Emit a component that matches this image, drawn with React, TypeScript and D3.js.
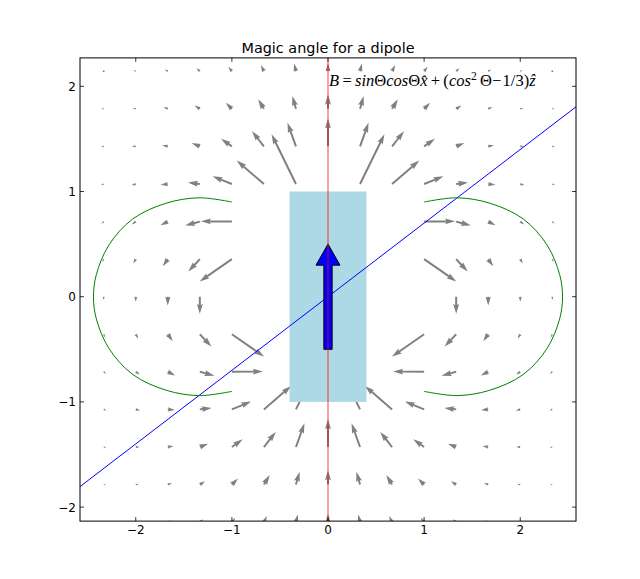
import React from 'react';
import * as d3 from 'd3';

const W = 640;
const H = 579;
const AX = { left: 80, right: 576, top: 57.9, bottom: 521.1 };
const xDomain = [-2.58, 2.58];
const yDomain = [-2.133, 2.27];
const xTicks = [-2, -1, 0, 1, 2];
const yTicks = [-2, -1, 0, 1, 2];
const titleText = 'Magic angle for a dipole';

// quiver grid (one quadrant, mirrored by symmetry of the dipole field)
const gridX = [0, 1 / 3, 2 / 3, 1, 4 / 3, 5 / 3, 2, 7 / 3];
const gridZ = [0, 0.357, 0.714, 1.071, 1.429, 1.786, 2.143];
// x component per row (gridZ) and column (gridX); null = no arrow
const fieldBx: (number | null)[][] = [
  [null, null, null, null, 0, 0, 0, 0],
  [null, null, null, 0.794, 0.285, 0.124, 0.062, 0.034],
  [null, null, null, 0.765, 0.361, 0.182, 0.099, 0.058],
  [null, 0.602, 0.670, 0.475, 0.293, 0.175, 0.107, 0.067],
  [0, 0.210, 0.293, 0.266, 0.201, 0.140, 0.096, 0.065],
  [0, 0.090, 0.142, 0.149, 0.130, 0.103, 0.077, 0.057],
  [0, 0.045, 0.075, 0.087, 0.084, 0.073, 0.059, 0.047],
];
const fieldBz: (number | null)[][] = [
  [null, null, null, null, -0.422, -0.216, -0.125, -0.079],
  [null, null, null, -0.552, -0.304, -0.175, -0.108, -0.071],
  [null, null, null, 0.007, -0.096, -0.090, -0.069, -0.051],
  [null, 1.228, 0.579, 0.192, 0.035, -0.016, -0.028, -0.028],
  [0.686, 0.585, 0.374, 0.191, 0.081, 0.026, 0.001, -0.009],
  [0.351, 0.317, 0.236, 0.150, 0.084, 0.041, 0.017, 0.004],
  [0.203, 0.189, 0.154, 0.111, 0.072, 0.043, 0.024, 0.012],
];

// green field line (left half), mirrored to the right
const fieldLineX = [-1.0, -1.34, -1.68, -2.03, -2.28, -2.41, -2.44, -2.41, -2.28, -2.03, -1.68, -1.34, -1.0];
const fieldLineY = [0.90, 0.94, 0.89, 0.74, 0.49, 0.21, 0, -0.21, -0.49, -0.74, -0.89, -0.94, -0.90];

// magic-angle line
const magicX = [-2.58, 2.58];
const magicY = [-1.805, 1.805];

// sample rectangle
const boxX = [-0.4, 0.4];
const boxY = [-1, 1];

// dipole arrow
const dipoleY = [-0.5, 0.5];
const dipoleWidth = 0.086;
const dipoleHeadWidth = 0.25;
const dipoleHeadLength = 0.2;

const QUIVER_SCALE = 40.5; // px per field unit
const SHAFT = 1.98; // px

function arrowPoints(L: number): [number, number][] {
  const hl = 5, hal = 4.5, hw = 3, minsh = 5, minlength = 1;
  let X: number[];
  let Y: number[];
  if (L < minlength) {
    X = [];
    Y = [];
    for (let k = 0; k < 8; k++) {
      const th = (k * Math.PI) / 3;
      X.push(Math.cos(th) * minlength * 0.5);
      Y.push(Math.sin(th) * minlength * 0.5);
    }
  } else if (L < minsh) {
    const s = L / minsh;
    X = [0, minsh - hal, minsh - hl, minsh, minsh - hl, minsh - hal, 0, 0].map((v) => v * s);
    Y = [0.5, 0.5, hw / 2, 0, -hw / 2, -0.5, -0.5, 0.5].map((v) => v * s);
  } else {
    X = [0, L - hal, L - hl, L, L - hl, L - hal, 0, 0];
    Y = [0.5, 0.5, hw / 2, 0, -hw / 2, -0.5, -0.5, 0.5];
  }
  return X.map((x, i) => [x, Y[i]]);
}

export default function App() {
  const xs = d3.scaleLinear().domain(xDomain).range([AX.left, AX.right]);
  const ys = d3.scaleLinear().domain(yDomain).range([AX.bottom, AX.top]);

  // build quiver arrows
  const arrows: string[] = [];
  gridZ.forEach((z, j) => {
    gridX.forEach((x, i) => {
      const bx = fieldBx[j][i];
      const bz = fieldBz[j][i];
      if (bx === null || bz === null) return;
      const sxs = i === 0 ? [1] : [1, -1];
      const szs = j === 0 ? [1] : [1, -1];
      sxs.forEach((sx) => {
        szs.forEach((sz) => {
          const px = xs(sx * x);
          const py = ys(sz * z);
          const u = sx * sz * bx * QUIVER_SCALE;
          const v = -bz * QUIVER_SCALE;
          const len = Math.hypot(u, v);
          const ang = Math.atan2(v, u);
          const ca = Math.cos(ang), sa = Math.sin(ang);
          const pts = arrowPoints(len / SHAFT).map(([a, b]) => {
            const ax = a * SHAFT, bb = b * SHAFT;
            return [px + ax * ca - bb * sa, py + ax * sa + bb * ca];
          });
          arrows.push('M' + pts.map((p) => p[0].toFixed(2) + ',' + p[1].toFixed(2)).join('L') + 'Z');
        });
      });
    });
  });

  const lineGen = d3
    .line<number>()
    .x((_, i) => xs(fieldLineX[i]))
    .y((d) => ys(d))
    .curve(d3.curveCatmullRom);
  const lineGenR = d3
    .line<number>()
    .x((_, i) => xs(-fieldLineX[i]))
    .y((d) => ys(d))
    .curve(d3.curveCatmullRom);

  // dipole arrow polygon in data coords
  const hw = dipoleWidth / 2;
  const hh = dipoleHeadWidth / 2;
  const headBase = dipoleY[1] - dipoleHeadLength;
  const dip: [number, number][] = [
    [-hw, dipoleY[0]],
    [-hw, headBase],
    [-hh, headBase],
    [0, dipoleY[1]],
    [hh, headBase],
    [hw, headBase],
    [hw, dipoleY[0]],
  ];
  const dipPath = 'M' + dip.map(([a, b]) => xs(a) + ',' + ys(b)).join('L') + 'Z';

  const tickFont = { fontFamily: 'DejaVu Sans', fontSize: 12 };
  const fmt = (v: number) => (v < 0 ? '\u2212' + Math.abs(v) : String(v));
  const mathY = ys(2);
  const mathX = xs(0) + 1;
  const mf = 16.5;

  return (
    <svg width={W} height={H} style={{ position: 'absolute', left: 0, top: 0, background: '#fff' }}>
      <defs>
        <clipPath id="axclip">
          <rect x={AX.left} y={AX.top} width={AX.right - AX.left} height={AX.bottom - AX.top} />
        </clipPath>
      </defs>
      <rect x={0} y={0} width={W} height={H} fill="#fff" />
      <g clipPath="url(#axclip)">
        <g fill="#808080">
          {arrows.map((d, i) => (
            <path key={i} d={d} />
          ))}
        </g>
        <rect
          x={xs(boxX[0])}
          y={ys(boxY[1])}
          width={xs(boxX[1]) - xs(boxX[0])}
          height={ys(boxY[0]) - ys(boxY[1])}
          fill="#add8e6"
        />
        <line x1={xs(magicX[0])} y1={ys(magicY[0])} x2={xs(magicX[1])} y2={ys(magicY[1])} stroke="#0000ff" strokeWidth={1} />
        <path d={lineGen(fieldLineY) || ''} fill="none" stroke="#008000" strokeWidth={1} />
        <path d={lineGenR(fieldLineY) || ''} fill="none" stroke="#008000" strokeWidth={1} />
        <path d={dipPath} fill="#0000ff" stroke="#000" strokeWidth={1} />
        <line x1={xs(0)} y1={AX.top} x2={xs(0)} y2={AX.bottom} stroke="#ff0000" strokeOpacity={0.5} strokeWidth={1.5} />
      </g>
      {/* frame */}
      <rect x={AX.left} y={AX.top} width={AX.right - AX.left} height={AX.bottom - AX.top} fill="none" stroke="#000" strokeWidth={1} />
      {/* ticks */}
      {xTicks.map((t) => (
        <g key={'xt' + t}>
          <line x1={xs(t)} x2={xs(t)} y1={AX.bottom} y2={AX.bottom - 4} stroke="#000" strokeWidth={0.8} />
          <line x1={xs(t)} x2={xs(t)} y1={AX.top} y2={AX.top + 4} stroke="#000" strokeWidth={0.8} />
          <text x={xs(t)} y={AX.bottom + 13.3} textAnchor="middle" {...tickFont}>
            {fmt(t)}
          </text>
        </g>
      ))}
      {yTicks.map((t) => (
        <g key={'yt' + t}>
          <line x1={AX.left} x2={AX.left + 4} y1={ys(t)} y2={ys(t)} stroke="#000" strokeWidth={0.8} />
          <line x1={AX.right} x2={AX.right - 4} y1={ys(t)} y2={ys(t)} stroke="#000" strokeWidth={0.8} />
          <text x={AX.left - 4} y={ys(t) + 4.4} textAnchor="end" {...tickFont}>
            {fmt(t)}
          </text>
        </g>
      ))}
      <text x={(AX.left + AX.right) / 2} y={52.5} textAnchor="middle" fontFamily="DejaVu Sans" fontSize={14.4}>
        {titleText}
      </text>
      <text x={mathX} y={mathY} fontFamily="Liberation Serif" fontSize={mf} fill="#000">
        <tspan fontStyle="italic">B</tspan>
        <tspan>{'\u2009=\u2009'}</tspan>
        <tspan fontStyle="italic">sin</tspan>
        <tspan>Θ</tspan>
        <tspan fontStyle="italic">cos</tspan>
        <tspan>Θ</tspan>
        <tspan fontStyle="italic">{'x\u0302'}</tspan>
        <tspan>{'\u2009+\u2009('}</tspan>
        <tspan fontStyle="italic">cos</tspan>
        <tspan fontSize={mf * 0.7} dy={-6}>2</tspan>
        <tspan dy={6}>{'\u2009Θ\u2212\u200a1/3)'}</tspan>
        <tspan fontStyle="italic">{'z\u0302'}</tspan>
      </text>
    </svg>
  );
}
